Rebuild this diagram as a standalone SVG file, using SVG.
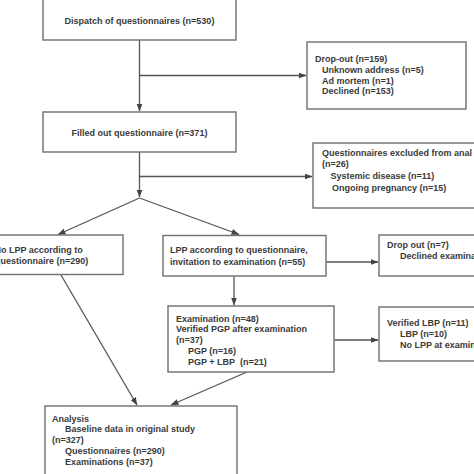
<svg xmlns="http://www.w3.org/2000/svg" width="474" height="474" viewBox="0 0 474 474">
<style>
.box{fill:#fff;stroke:#6e6e6e;stroke-width:1.4}
.t{font-family:"Liberation Sans",Arial,sans-serif;font-size:9px;font-weight:bold;fill:#3a3a3a}
.c{text-anchor:middle}
.ln{fill:none;stroke:#555;stroke-width:1.3}
</style>
<defs>
<marker id="ah" markerUnits="userSpaceOnUse" markerWidth="8" markerHeight="8" viewBox="0 0 8 8" refX="7.5" refY="4" orient="auto">
<path d="M0,1 L8,4 L0,7 Z" fill="#444"/>
</marker>
</defs>
<rect width="474" height="474" fill="#fff"/>
<g id="connectors">
<path class="ln" d="M139.5,40 V111" marker-end="url(#ah)"/>
<path class="ln" d="M139.5,75.5 H306" marker-end="url(#ah)"/>
<path class="ln" d="M139.5,152 V197" marker-end="url(#ah)"/>
<path class="ln" d="M139.5,176.5 H312" marker-end="url(#ah)"/>
<path class="ln" d="M139.5,198 L58,234.5" marker-end="url(#ah)"/>
<path class="ln" d="M139.5,198 L239,234.5" marker-end="url(#ah)"/>
<path class="ln" d="M326,262 H378" marker-end="url(#ah)"/>
<path class="ln" d="M234,276 V305" marker-end="url(#ah)"/>
<path class="ln" d="M334,340 H378" marker-end="url(#ah)"/>
<path class="ln" d="M61,275 L137,405" marker-end="url(#ah)"/>
<path class="ln" d="M247,372 L171,405" marker-end="url(#ah)"/>
</g>
<g id="dispatch">
<rect class="box" x="43" y="-10" width="193" height="50"/>
<text class="t c" x="139.5" y="24">Dispatch of questionnaires (n=530)</text>
</g>
<g id="dropout">
<rect class="box" x="307" y="42" width="159" height="67"/>
<text class="t" x="315" y="62">Drop-out (n=159)</text>
<text class="t" x="322" y="73">Unknown address (n=5)</text>
<text class="t" x="322" y="83.5">Ad mortem (n=1)</text>
<text class="t" x="322" y="94">Declined (n=153)</text>
</g>
<g id="filled">
<rect class="box" x="43" y="112" width="193" height="40"/>
<text class="t c" x="139.5" y="135.5">Filled out questionnaire (n=371)</text>
</g>
<g id="excluded">
<rect class="box" x="313" y="143" width="175" height="65"/>
<text class="t" x="322" y="156">Questionnaires excluded from anal</text>
<text class="t" x="322" y="167">(n=26)</text>
<text class="t" x="330.5" y="179">Systemic disease (n=11)</text>
<text class="t" x="332" y="191">Ongoing pregnancy (n=15)</text>
</g>
<g id="nolpp">
<rect class="box" x="-10" y="235" width="133" height="39.5"/>
<text class="t" x="-5.5" y="252.5">No LPP according to</text>
<text class="t" x="-5" y="264">questionnaire (n=290)</text>
</g>
<g id="lpp">
<rect class="box" x="163" y="235.5" width="163" height="40.5"/>
<text class="t" x="170" y="253">LPP according to questionnaire,</text>
<text class="t" x="170" y="264.5">invitation to examination (n=55)</text>
</g>
<g id="dropout2">
<rect class="box" x="379" y="235" width="110" height="41"/>
<text class="t" x="387" y="248">Drop out (n=7)</text>
<text class="t" x="400" y="259">Declined examina</text>
</g>
<g id="examination">
<rect class="box" x="168" y="306" width="166" height="66"/>
<text class="t" x="176" y="321.5">Examination (n=48)</text>
<text class="t" x="176" y="332">Verified PGP after examination</text>
<text class="t" x="176" y="343">(n=37)</text>
<text class="t" x="188" y="354">PGP (n=16)</text>
<text class="t" x="188" y="364.5">PGP + LBP &#160;(n=21)</text>
</g>
<g id="verified">
<rect class="box" x="379" y="307" width="110" height="54"/>
<text class="t" x="387" y="326">Verified LBP (n=11)</text>
<text class="t" x="400" y="337">LBP (n=10)</text>
<text class="t" x="400" y="347.5">No LPP at examin</text>
</g>
<g id="analysis">
<rect class="box" x="45" y="406" width="192" height="80"/>
<text class="t" x="52" y="421.5">Analysis</text>
<text class="t" x="65" y="432">Baseline data in original study</text>
<text class="t" x="52" y="443">(n=327)</text>
<text class="t" x="65" y="454">Questionnaires (n=290)</text>
<text class="t" x="65" y="465">Examinations (n=37)</text>
</g>
</svg>
